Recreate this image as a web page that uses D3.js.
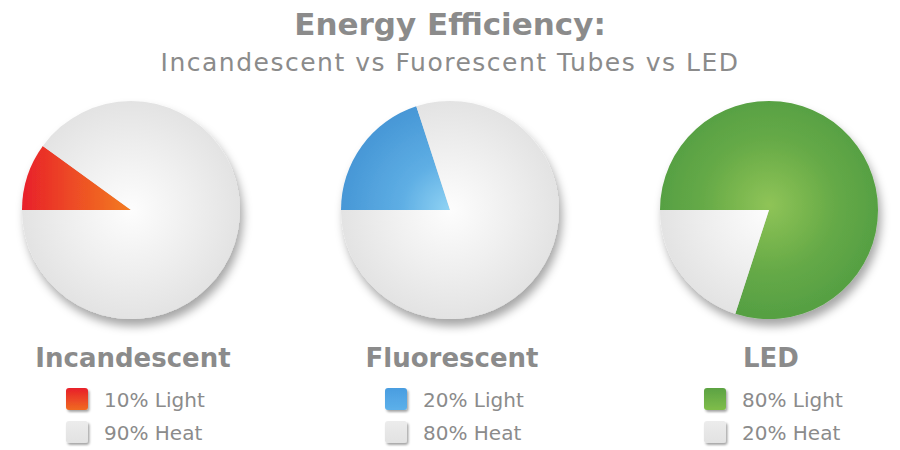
<!DOCTYPE html>
<html>
<head>
<meta charset="utf-8">
<script src="https://cdn.jsdelivr.net/npm/d3@7"></script>
<style>
  html, body { margin: 0; padding: 0; background: #ffffff; }
  svg { display: block; }
  text { font-family: "DejaVu Sans", sans-serif; fill: #8b8b8b; }
</style>
</head>
<body>
<svg id="chart" width="900" height="450"></svg>
<script>
// ---- data ----
const titleText = "Energy Efficiency:";
const subtitleText = "Incandescent vs Fuorescent Tubes vs LED";
const technologies = ["Incandescent", "Fluorescent", "LED"];
const lightPct = [10, 20, 80];
const heatPct = [90, 80, 20];
const seriesNames = ["Light", "Heat"];

const W = 900, H = 450;
const svg = d3.select("#chart");
const defs = svg.append("defs");

const sh = defs.append("filter").attr("id", "pieShadow")
  .attr("x", "-20%").attr("y", "-20%").attr("width", "150%").attr("height", "150%");
sh.append("feDropShadow").attr("dx", 3).attr("dy", 7).attr("stdDeviation", 5)
  .attr("flood-color", "#000").attr("flood-opacity", 0.35);
const sh2 = defs.append("filter").attr("id", "boxShadow")
  .attr("x", "-30%").attr("y", "-30%").attr("width", "170%").attr("height", "170%");
sh2.append("feDropShadow").attr("dx", 1.5).attr("dy", 2).attr("stdDeviation", 1.2)
  .attr("flood-color", "#000").attr("flood-opacity", 0.35);

const R = 109;
function radial(id, stops, cx = 0, cy = 0, r = R) {
  const g = defs.append("radialGradient").attr("id", id)
    .attr("gradientUnits", "userSpaceOnUse")
    .attr("cx", cx).attr("cy", cy).attr("r", r);
  stops.forEach(s => g.append("stop").attr("offset", s[0]).attr("stop-color", s[1]));
}
function linear(id, stops, x1, y1, x2, y2, units = "userSpaceOnUse") {
  const g = defs.append("linearGradient").attr("id", id)
    .attr("gradientUnits", units)
    .attr("x1", x1).attr("y1", y1).attr("x2", x2).attr("y2", y2);
  stops.forEach(s => g.append("stop").attr("offset", s[0]).attr("stop-color", s[1]));
}
radial("heatGrad", [[0, "#fdfdfd"], [0.55, "#efefef"], [1, "#e3e3e3"]]);
linear("lightGrad0", [[0, "#e8202a"], [1, "#f37c20"]], -R, 0, 0, 0);
radial("lightGrad1", [[0, "#90d3f4"], [0.45, "#5eaee4"], [1, "#4797d6"]]);
radial("lightGrad2", [[0, "#8fc457"], [0.6, "#66aa47"], [1, "#56a043"]], 0, -5, R);

linear("boxGrad0", [[0, "#e8202a"], [1, "#f06a22"]], 0, 0, 0, 1, "objectBoundingBox");
linear("boxGrad1", [[0, "#4a9de0"], [1, "#5cb0ea"]], 0, 0, 0, 1, "objectBoundingBox");
linear("boxGrad2", [[0, "#5ca243"], [1, "#7fbd4a"]], 0, 0, 0, 1, "objectBoundingBox");
linear("boxGradHeat", [[0, "#ececec"], [1, "#e2e2e2"]], 0, 0, 0, 1, "objectBoundingBox");

// fit a text element's width by adjusting letter spacing
function fitWidth(sel, target) {
  const n = sel.text().length;
  const w = sel.node().getComputedTextLength();
  if (n > 1) sel.style("letter-spacing", ((target - w) / n) + "px");
}

svg.append("text").attr("x", W / 2).attr("y", 35).attr("text-anchor", "middle")
  .style("font-size", "31px").style("font-weight", "700").text(titleText);
const subtitle = svg.append("text").attr("x", W / 2).attr("y", 71).attr("text-anchor", "middle")
  .style("font-size", "25px").style("font-weight", "400").text(subtitleText);
fitWidth(subtitle, 579);

const xPos = d3.scalePoint().domain(technologies).range([131, 769]);
const cy = 210;
const pie = d3.pie().sort(null).value(d => d.value)
  .startAngle(-Math.PI / 2).endAngle(3 * Math.PI / 2);
const arc = d3.arc().innerRadius(0).outerRadius(R);

technologies.forEach((tech, i) => {
  const data = [
    { name: seriesNames[0], value: lightPct[i] },
    { name: seriesNames[1], value: heatPct[i] }
  ];
  const cx = xPos(tech);
  const g = svg.append("g").attr("transform", `translate(${cx},${cy})`);
  const pg = g.append("g").attr("filter", "url(#pieShadow)");
  pg.selectAll("path").data(pie(data)).join("path")
    .attr("d", arc)
    .attr("fill", d => d.data.name === "Light" ? `url(#lightGrad${i})` : "url(#heatGrad)");

  svg.append("text").attr("x", cx + 2).attr("y", 367).attr("text-anchor", "middle")
    .style("font-size", "26px").style("font-weight", "700").text(tech);

  const lg = svg.append("g").attr("transform", `translate(${cx - 65},388)`);
  data.forEach((d, j) => {
    const row = lg.append("g").attr("transform", `translate(0,${j * 33})`);
    row.append("rect").attr("width", 22).attr("height", 22).attr("rx", 3)
      .attr("fill", d.name === "Light" ? `url(#boxGrad${i})` : "url(#boxGradHeat)")
      .attr("filter", "url(#boxShadow)");
    row.append("text").attr("x", 38).attr("y", 19)
      .style("font-size", "20px").text(`${d.value}% ${d.name}`);
  });
});
</script>
</body>
</html>
